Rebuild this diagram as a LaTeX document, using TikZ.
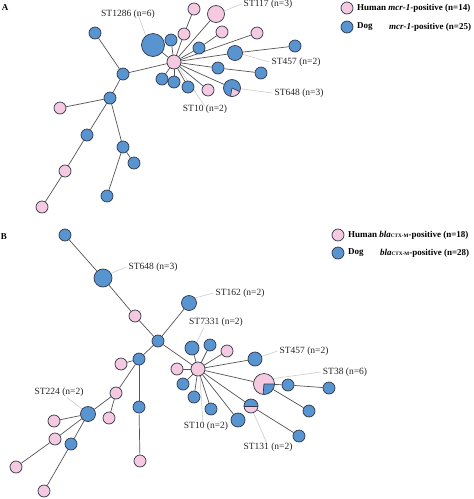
\documentclass[tikz,border=0pt]{standalone}
\usepackage{fontspec}
\setmainfont{Liberation Serif}
\pgfdeclarelayer{bg}
\pgfdeclarelayer{paper}
\pgfsetlayers{paper,bg,main}
\definecolor{humc}{RGB}{245,202,224}
\definecolor{dogc}{RGB}{88,148,208}
\definecolor{olc}{RGB}{50,55,75}
\definecolor{edgec}{RGB}{85,85,85}
\definecolor{leadc}{RGB}{205,205,205}
\tikzset{
  nd/.style={circle, inner sep=0pt, minimum size=12pt, draw=olc, line width=0.7pt},
  hu/.style={nd, fill=humc},
  dg/.style={nd, fill=dogc},
  pienode/.style={nd},
  ed/.style={draw=edgec, line width=0.7pt},
  lead/.style={draw=leadc, line width=0.6pt},
  lbl/.style={font=\fontsize{9.5pt}{11pt}\selectfont, inner sep=0pt, text=black!85},
  leg/.style={font=\fontsize{9pt}{11pt}\selectfont\bfseries, inner sep=0pt, anchor=west},
  panel/.style={font=\fontsize{9pt}{11pt}\selectfont\bfseries, inner sep=0pt}
}
\begin{document}
\begin{tikzpicture}[x=1pt,y=-1pt]
\useasboundingbox (0,0) rectangle (474,499);
\begin{pgfonlayer}{paper}
\fill[white] (0,0) rectangle (474,499);
\end{pgfonlayer}

% ---------------- Panel A ----------------
\node[panel] (pA) at (5,8) {A};
\node[hu, minimum size=14pt] (a0) at (174,62) {};
\node[dg, minimum size=23pt] (a1286) at (153,45) {};
\node[dg] (a1) at (171,40) {};
\node[hu] (a2) at (184,34) {};
\node[hu] (a3) at (194,9) {};
\node[hu, minimum size=17pt] (a117) at (216,14) {};
\node[hu] (a4) at (222,32) {};
\node[hu] (a5) at (257,33) {};
\node[dg] (a6) at (199,48) {};
\node[dg, minimum size=15pt] (a457) at (235,53) {};
\node[dg] (a7) at (295,46) {};
\node[dg] (a8) at (218,68) {};
\node[dg] (a9) at (261,73) {};
\coordinate (p648) at (232,88);
\fill[dogc] (p648) circle (8.5pt);
\fill[humc] (p648) -- ++(-100:8.5pt) arc[start angle=-100, end angle=-25, radius=8.5pt] -- cycle;
\draw[olc, line width=0.7pt] (p648) -- ++(-100:8.5pt) (p648) -- ++(-25:8.5pt);
\node[pienode, minimum size=17pt] (a648) at (p648) {};
\node[hu] (a10) at (208,90) {};
\node[dg] (a11) at (188,87) {};
\node[dg] (a12) at (174,82) {};
\node[dg] (a13) at (162,79) {};
\node[dg] (a14) at (123,74) {};
\node[dg] (a15) at (95,33) {};
\node[dg] (a16) at (110,98) {};
\node[hu] (a17) at (60,108) {};
\node[dg] (a18) at (87,135) {};
\node[hu] (a19) at (65,171) {};
\node[hu] (a20) at (42,207) {};
\node[dg] (a21) at (123,147) {};
\node[dg] (a22) at (134,163) {};
\node[dg] (a23) at (107,196) {};

\node[lbl] (l1286) at (128,14) {ST1286 (n=6)};
\node[lbl] (l117) at (268,4) {ST117 (n=3)};
\node[lbl] (l457a) at (296,62) {ST457 (n=2)};
\node[lbl] (l648a) at (299,93) {ST648 (n=3)};
\node[lbl] (l10a) at (205,109) {ST10 (n=2)};

% legend A
\node[hu] (gA1) at (347,8) {};
\node[leg] (tA1) at (357,8) {Human \textit{mcr-1}-positive (n=14)};
\node[dg] (gA2) at (347,27) {};
\node[leg] (tA2) at (357,27) {Dog};
\node[leg] (tA3) at (389,27) {\textit{mcr-1}-positive (n=25)};

% ---------------- Panel B ----------------
\node[panel] (pB) at (4,237) {B};
\node[hu, minimum size=14pt] (b0) at (198,369) {};
\node[dg] (b1) at (65,235) {};
\node[dg, minimum size=18pt] (b648) at (103,278) {};
\node[hu] (b2) at (135,316) {};
\node[dg] (b3) at (158,341) {};
\node[dg, minimum size=15pt] (b162) at (189,303) {};
\node[dg] (b4) at (139,359) {};
\node[hu] (b5) at (121,364) {};
\node[hu] (b6) at (116,393) {};
\node[hu] (b7) at (109,418) {};
\node[dg, minimum size=15pt] (b224) at (88,414) {};
\node[hu] (b8) at (54,421) {};
\node[hu] (b9) at (55,439) {};
\node[hu] (b10) at (16,467) {};
\node[dg] (b11) at (71,444) {};
\node[hu] (b12) at (44,491) {};
\node[dg] (b13) at (139,407) {};
\node[hu] (b14) at (140,461) {};
\node[hu] (b15) at (177,369) {};
\node[dg] (b16) at (183,384) {};
\node[dg] (b17) at (194,397) {};
\node[dg] (b18) at (211,409) {};
\node[dg, minimum size=14pt] (b19) at (238,420) {};
\node[dg, minimum size=14pt] (b7331) at (192,348) {};
\node[dg] (b20) at (210,345) {};
\node[hu] (b21) at (227,351) {};
\node[dg, minimum size=14pt] (b457) at (255,359) {};
\coordinate (p38) at (264,384);
\fill[humc] (p38) circle (10.5pt);
\fill[dogc] (p38) -- ++(-95:10.5pt) arc[start angle=-95, end angle=0, radius=10.5pt] -- cycle;
\draw[olc, line width=0.7pt] (p38) -- ++(-95:10.5pt) (p38) -- ++(0:10.5pt);
\node[pienode, minimum size=21pt] (b38) at (p38) {};
\node[dg] (b22) at (288,385) {};
\node[dg] (b23) at (329,388) {};
\node[dg] (b24) at (309,411) {};
\coordinate (p131) at (251,406);
\fill[humc] (p131) circle (7pt);
\fill[dogc] (p131) ++(7pt,0) arc[start angle=0, end angle=180, radius=7pt] -- cycle;
\draw[olc, line width=0.7pt] (p131) ++(-7pt,0) -- ++(14pt,0);
\node[pienode, minimum size=14pt] (b131) at (p131) {};
\node[dg] (b25) at (299,436) {};

\node[lbl] (l648b) at (153,267) {ST648 (n=3)};
\node[lbl] (l162) at (240,293) {ST162 (n=2)};
\node[lbl] (l7331) at (216,322) {ST7331 (n=2)};
\node[lbl] (l224) at (59,392) {ST224 (n=2)};
\node[lbl] (l10b) at (206,426) {ST10 (n=2)};
\node[lbl] (l457b) at (304,351) {ST457 (n=2)};
\node[lbl] (l38) at (345,372) {ST38 (n=6)};
\node[lbl] (l131) at (268,447) {ST131 (n=2)};

% legend B
\node[hu] (gB1) at (338,235) {};
\node[leg] (tB1) at (348,235) {Human \textit{bla}\raisebox{-0.8pt}{\fontsize{5.2pt}{6pt}\selectfont CTX-M}-positive (n=18)};
\node[dg] (gB2) at (338,253) {};
\node[leg] (tB2) at (348,253) {Dog};
\node[leg] (tB3) at (380,253) {\textit{bla}\raisebox{-0.8pt}{\fontsize{5.2pt}{6pt}\selectfont CTX-M}-positive (n=28)};

\begin{pgfonlayer}{bg}
% edges A
\foreach \t in {a1286,a1,a2,a117,a5,a6,a457,a8,a648,a10,a11,a12,a13,a14}
  \draw[ed] (a0) -- (\t);
\draw[ed] (a2) -- (a3);
\draw[ed] (a6) -- (a4);
\draw[ed] (a457) -- (a7);
\draw[ed] (a8) -- (a9);
\draw[ed] (a14) -- (a15);
\draw[ed] (a14) -- (a16);
\draw[ed] (a16) -- (a17);
\draw[ed] (a16) -- (a18);
\draw[ed] (a18) -- (a19);
\draw[ed] (a19) -- (a20);
\draw[ed] (a16) -- (a21);
\draw[ed] (a21) -- (a22);
\draw[ed] (a21) -- (a23);
% leaders A
\draw[lead] (a1286.128) -- ([xshift=9pt,yshift=7pt]l1286.south);
\draw[lead] (a117.20) -- ([xshift=-2pt]l117.west);
\draw[lead] (a457.-10) -- ([xshift=-2pt]l457a.west);
\draw[lead] (a648.-5) -- ([xshift=-2pt]l648a.west);
\draw[lead] (a0.-50) -- ([yshift=-2pt]l10a.north);
% edges B
\draw[ed] (b1) -- (b648);
\draw[ed] (b648) -- (b2);
\draw[ed] (b2) -- (b3);
\draw[ed] (b3) -- (b162);
\draw[ed] (b3) -- (b0);
\draw[ed] (b3) -- (b4);
\draw[ed] (b4) -- (b5);
\draw[ed] (b4) -- (b6);
\draw[ed] (b6) -- (b224);
\draw[ed] (b6) -- (b7);
\draw[ed] (b4) -- (b13);
\draw[ed] (b13) -- (b14);
\draw[ed] (b224) -- (b8);
\draw[ed] (b224) -- (b9);
\draw[ed] (b9) -- (b10);
\draw[ed] (b224) -- (b11);
\draw[ed] (b11) -- (b12);
\foreach \t in {b15,b16,b17,b18,b19,b7331,b20,b21,b457,b38,b131}
  \draw[ed] (b0) -- (\t);
\draw[ed] (b38) -- (b22);
\draw[ed] (b22) -- (b23);
\draw[ed] (b38) -- (b24);
\draw[ed] (b131) -- (b25);
% leaders B
\draw[lead] (b648.30) -- ([xshift=-2pt]l648b.west);
\draw[lead] (b162.40) -- ([xshift=-2pt]l162.west);
\draw[lead] (b7331.50) -- ([xshift=-12pt,yshift=-1pt]l7331.south);
\draw[lead] (b224.140) -- ([xshift=8pt,yshift=-1pt]l224.south);
\draw[lead] (b0.-75) -- ([xshift=-3pt,yshift=-2pt]l10b.north);
\draw[lead] (b457.20) -- ([xshift=-2pt]l457b.west);
\draw[lead] (b38.30) -- ([xshift=-2pt]l38.west);
\draw[lead] (b131.-70) -- ([xshift=-1pt,yshift=-1pt]l131.north);
\end{pgfonlayer}
\end{tikzpicture}
\end{document}
